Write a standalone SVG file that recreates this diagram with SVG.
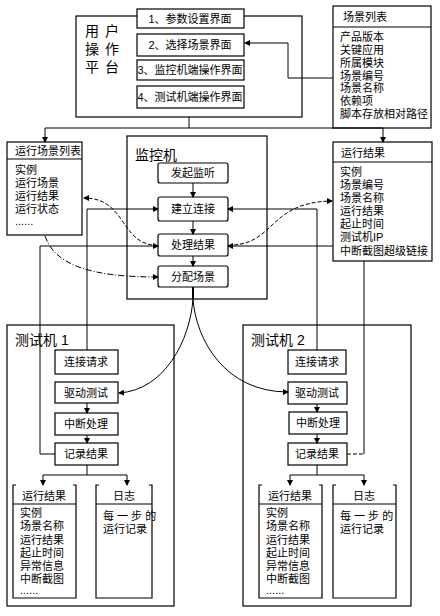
<svg xmlns="http://www.w3.org/2000/svg" width="440" height="616" viewBox="0 0 440 616">
<style>
.b{fill:#fff;stroke:#000;stroke-width:1.2}
.o{fill:none;stroke:#000;stroke-width:1.2}
.c{fill:none;stroke:#000;stroke-width:1}
.d{fill:none;stroke:#000;stroke-width:1;stroke-dasharray:4 2}
.dd{fill:none;stroke:#000;stroke-width:1;stroke-dasharray:6 2 1 2}
text{font-family:"Liberation Sans","Noto Sans CJK SC",sans-serif;font-size:11px;fill:#000}
.t{font-size:14px}
.m{text-anchor:middle}
</style>
<defs>
<marker id="a" markerWidth="6" markerHeight="6" refX="5" refY="3" orient="auto" markerUnits="userSpaceOnUse">
<path d="M0,0 L6,3 L0,6 Z" fill="#000"/>
</marker>
</defs>
<rect width="440" height="616" fill="#fff"/>

<g id="platform">
<rect class="o" x="76" y="16" width="226" height="101"/>
<text class="t" x="85" y="36" letter-spacing="6">用户</text>
<text class="t" x="85" y="54" letter-spacing="6">操作</text>
<text class="t" x="85" y="72" letter-spacing="6">平台</text>
</g>
<g id="ui1"><rect class="b" x="137" y="9" width="107" height="19"/><text class="m" x="190" y="23" font-size="10.5">1、参数设置界面</text></g>
<g id="ui2"><rect class="b" x="137" y="34" width="107" height="22"/><text class="m" x="190" y="49" font-size="10.5">2、选择场景界面</text></g>
<g id="ui3"><rect class="b" x="137" y="60" width="107" height="20"/><text class="m" x="190" y="74" font-size="10.5">3、监控机端操作界面</text></g>
<g id="ui4"><rect class="b" x="137" y="86" width="107" height="22"/><text class="m" x="190" y="101" font-size="10.5">4、测试机端操作界面</text></g>

<g id="scenelist">
<rect class="b" x="333" y="6" width="98" height="122"/>
<line class="o" x1="333" y1="27" x2="431" y2="27"/>
<text x="343" y="21">场景列表</text>
<text x="340" y="41">产品版本</text>
<text x="340" y="54">关键应用</text>
<text x="340" y="67">所属模块</text>
<text x="340" y="80">场景编号</text>
<text x="340" y="92">场景名称</text>
<text x="340" y="105">依赖项</text>
<text x="340" y="118">脚本存放相对路径</text>
</g>

<g id="runlist">
<rect class="b" x="7" y="142" width="75" height="93"/>
<line class="o" x1="7" y1="159" x2="82" y2="159"/>
<text x="15" y="155">运行场景列表</text>
<text x="15" y="174">实例</text>
<text x="15" y="187">运行场景</text>
<text x="15" y="200">运行结果</text>
<text x="15" y="213">运行状态</text>
<text x="15" y="225">......</text>
</g>

<g id="runresult">
<rect class="b" x="333" y="142" width="99" height="119"/>
<line class="o" x1="333" y1="162" x2="432" y2="162"/>
<text x="341" y="157">运行结果</text>
<text x="340" y="176">实例</text>
<text x="340" y="189">场景编号</text>
<text x="340" y="202">场景名称</text>
<text x="340" y="215">运行结果</text>
<text x="340" y="228">起止时间</text>
<text x="340" y="241">测试机IP</text>
<text x="340" y="255">中断截图超级链接</text>
</g>

<g id="monitor">
<rect class="o" x="127" y="136" width="140" height="163"/>
<text class="t" x="135" y="160">监控机</text>
</g>
<g id="m1"><rect class="b" x="158" y="163" width="70" height="20" rx="2"/><text class="m" x="193" y="177">发起监听</text></g>
<g id="m2"><rect class="b" x="158" y="197" width="70" height="24" rx="2"/><text class="m" x="193" y="213">建立连接</text></g>
<g id="m3"><rect class="b" x="158" y="234" width="70" height="22" rx="2"/><text class="m" x="193" y="249">处理结果</text></g>
<g id="m4"><rect class="b" x="158" y="266" width="70" height="21" rx="2"/><text class="m" x="193" y="281">分配场景</text></g>

<g id="tester1">
<rect class="o" x="7" y="325" width="167" height="281"/>
<text class="t" x="15" y="345">测试机 1</text>
</g>
<g id="t1a"><rect class="b" x="55" y="350" width="63" height="24"/><text class="m" x="86" y="366">连接请求</text></g>
<g id="t1b"><rect class="b" x="55" y="382" width="63" height="21"/><text class="m" x="86" y="397">驱动测试</text></g>
<g id="t1c"><rect class="b" x="55" y="413" width="63" height="22"/><text class="m" x="86" y="428">中断处理</text></g>
<g id="t1d"><rect class="b" x="55" y="443" width="63" height="22"/><text class="m" x="86" y="458">记录结果</text></g>
<g id="t1res">
<path class="o" d="M16,485 H13 V598 H76 V485 H73"/>
<line class="o" x1="13" y1="504" x2="76" y2="504"/>
<text class="m" x="44" y="500">运行结果</text>
<text x="20" y="517">实例</text>
<text x="20" y="530">场景名称</text>
<text x="20" y="544">运行结果</text>
<text x="20" y="557">起止时间</text>
<text x="20" y="570">异常信息</text>
<text x="20" y="583">中断截图</text>
<text x="20" y="594">......</text>
</g>
<g id="t1log">
<path class="o" d="M99,485 H96 V598 H152 V485 H149"/>
<line class="o" x1="96" y1="504" x2="152" y2="504"/>
<text class="m" x="124" y="500">日志</text>
<text x="103" y="520" font-size="10.5">每 一 步 的</text>
<text x="103" y="533">运行记录</text>
</g>

<g id="tester2">
<rect class="o" x="243" y="325" width="168" height="281" stroke-width="1.6"/>
<text class="t" x="251" y="345">测试机 2</text>
</g>
<g id="t2a"><rect class="b" x="288" y="350" width="58" height="24"/><text class="m" x="317" y="366">连接请求</text></g>
<g id="t2b"><rect class="b" x="288" y="382" width="59" height="22"/><text class="m" x="317" y="397">驱动测试</text></g>
<g id="t2c"><rect class="b" x="289" y="412" width="58" height="22"/><text class="m" x="318" y="427">中断处理</text></g>
<g id="t2d"><rect class="b" x="288" y="443" width="59" height="22"/><text class="m" x="317" y="458">记录结果</text></g>
<g id="t2res">
<path class="o" d="M262,485 H259 V598 H322 V485 H319"/>
<line class="o" x1="259" y1="504" x2="322" y2="504"/>
<text class="m" x="290" y="500">运行结果</text>
<text x="266" y="517">实例</text>
<text x="266" y="530">场景名称</text>
<text x="266" y="544">运行结果</text>
<text x="266" y="557">起止时间</text>
<text x="266" y="570">异常信息</text>
<text x="266" y="583">中断截图</text>
<text x="266" y="594">......</text>
</g>
<g id="t2log">
<path class="o" d="M336,485 H333 V598 H396 V485 H393"/>
<line class="o" x1="333" y1="504" x2="396" y2="504"/>
<text class="m" x="364" y="500">日志</text>
<text x="340" y="520" font-size="10.5">每 一 步 的</text>
<text x="340" y="533">运行记录</text>
</g>

<g id="connectors">
<polyline class="c" points="333,78 288,78 288,43 245,43" marker-end="url(#a)"/>
<line class="c" x1="189" y1="117" x2="189" y2="128"/>
<line class="c" x1="45" y1="128" x2="383" y2="128"/>
<line class="c" x1="45" y1="128" x2="45" y2="142" marker-end="url(#a)"/>
<line class="c" x1="383" y1="128" x2="383" y2="142" marker-end="url(#a)"/>
<line class="c" x1="193" y1="183" x2="193" y2="197" marker-end="url(#a)"/>
<line class="c" x1="193" y1="221" x2="193" y2="234" marker-end="url(#a)"/>
<line class="c" x1="193" y1="256" x2="193" y2="266" marker-end="url(#a)"/>
<polyline class="c" points="87,350 87,209 158,209" marker-end="url(#a)"/>
<polyline class="c" points="55,454 40,454 40,246 158,246" marker-end="url(#a)"/>
<path class="d" d="M152,245 C120,240 125,198 84,198" marker-end="url(#a)"/>
<path class="dd" d="M45,236 C55,265 90,277 158,277" marker-end="url(#a)"/>
<polyline class="c" points="317,350 317,209 228,209" marker-end="url(#a)"/>
<line class="c" x1="333" y1="246" x2="228" y2="246" marker-end="url(#a)"/>
<path class="d" d="M234,245 C275,242 270,202 332,201" marker-end="url(#a)"/>
<line class="d" x1="347" y1="454" x2="364" y2="454"/>
<line class="c" x1="364" y1="454" x2="364" y2="261"/>
<line x1="193" y1="287" x2="193" y2="299" stroke="#000" stroke-width="2"/>
<path class="c" d="M193,299 C190,340 165,390 119,393" marker-end="url(#a)"/>
<path class="c" d="M193,299 C196,340 225,392 288,392" marker-end="url(#a)"/>
<line class="c" x1="87" y1="403" x2="87" y2="413" marker-end="url(#a)"/>
<line class="c" x1="87" y1="435" x2="87" y2="443" marker-end="url(#a)"/>
<line class="c" x1="317" y1="404" x2="317" y2="412" marker-end="url(#a)"/>
<line class="c" x1="317" y1="434" x2="317" y2="443" marker-end="url(#a)"/>
<line class="c" x1="87" y1="465" x2="87" y2="475"/>
<line class="c" x1="43" y1="475" x2="127" y2="475"/>
<line class="c" x1="43" y1="475" x2="43" y2="485" marker-end="url(#a)"/>
<line class="c" x1="127" y1="475" x2="127" y2="485" marker-end="url(#a)"/>
<line class="c" x1="317" y1="465" x2="317" y2="475"/>
<line class="c" x1="290" y1="475" x2="364" y2="475"/>
<line class="c" x1="290" y1="475" x2="290" y2="485" marker-end="url(#a)"/>
<line class="c" x1="364" y1="475" x2="364" y2="485" marker-end="url(#a)"/>
</g>
</svg>
